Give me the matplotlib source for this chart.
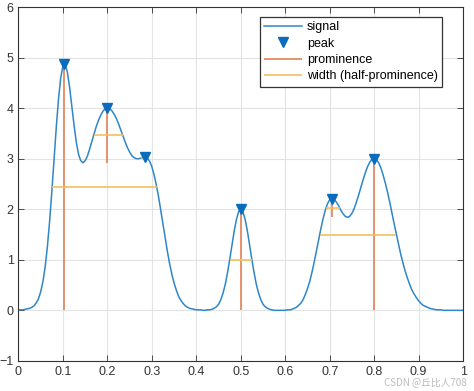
import numpy as np
import matplotlib
matplotlib.use("Agg")
import matplotlib.pyplot as plt

x_sig = np.linspace(0, 1, 201)
y_sig = [
    0.01, 0.01, 0.01, 0.02, 0.03, 0.04, 0.06, 0.09, 0.15, 0.23, 0.37, 0.57, 0.86, 1.26, 1.76, 2.35, 2.99, 3.62, 4.18, 4.60,
    4.84, 4.87, 4.71, 4.41, 4.04, 3.66, 3.33, 3.09, 2.96, 2.92, 2.96, 3.05, 3.19, 3.34, 3.49, 3.64, 3.76, 3.86, 3.94, 3.99,
    4.00, 3.99, 3.95, 3.88, 3.80, 3.69, 3.57, 3.45, 3.33, 3.22, 3.13, 3.06, 3.02, 3.00, 3.00, 3.01, 3.03, 3.03, 3.01, 2.95,
    2.84, 2.68, 2.48, 2.25, 1.98, 1.70, 1.43, 1.16, 0.92, 0.71, 0.54, 0.40, 0.28, 0.20, 0.14, 0.09, 0.06, 0.04, 0.03, 0.02,
    0.01, 0.01, 0.01, 0.00, 0.00, 0.01, 0.01, 0.02, 0.04, 0.07, 0.12, 0.21, 0.34, 0.51, 0.74, 1.00, 1.28, 1.56, 1.79, 1.95,
    2.00, 1.95, 1.79, 1.56, 1.28, 1.00, 0.74, 0.51, 0.34, 0.21, 0.12, 0.07, 0.04, 0.02, 0.01, 0.00, 0.00, 0.00, 0.00, 0.00,
    0.00, 0.01, 0.01, 0.02, 0.04, 0.06, 0.10, 0.14, 0.21, 0.31, 0.43, 0.57, 0.75, 0.95, 1.17, 1.39, 1.61, 1.81, 1.98, 2.11,
    2.19, 2.21, 2.20, 2.14, 2.07, 1.98, 1.91, 1.86, 1.84, 1.86, 1.92, 2.01, 2.14, 2.28, 2.43, 2.58, 2.72, 2.84, 2.93, 2.99,
    3.00, 2.98, 2.92, 2.82, 2.68, 2.52, 2.34, 2.14, 1.92, 1.71, 1.50, 1.30, 1.10, 0.93, 0.77, 0.63, 0.51, 0.40, 0.32, 0.25,
    0.19, 0.14, 0.10, 0.08, 0.06, 0.04, 0.03, 0.02, 0.01, 0.01, 0.01, 0.00, 0.00, 0.00, 0.00, 0.00, 0.00, 0.00, 0.00, 0.00,
    0.00,
]

# peaks
peak_x = [0.103, 0.2, 0.285, 0.5, 0.705, 0.8]
peak_y = [4.88, 4.00, 3.03, 2.00, 2.21, 3.00]
prom_base = [0.0, 2.92, 3.00, 0.0, 1.84, 0.0]

# half-prominence widths
width_y = [2.44, 3.46, 3.015, 1.00, 2.03, 1.50]
width_left = [0.076, 0.169, 0.2755, 0.475, 0.692, 0.6775]
width_right = [0.311, 0.2346, 0.288, 0.525, 0.7225, 0.850]

xticks = [0, 0.1, 0.2, 0.3, 0.4, 0.5, 0.6, 0.7, 0.8, 0.9, 1]
xticklabels = ["0", "0.1", "0.2", "0.3", "0.4", "0.5", "0.6", "0.7", "0.8", "0.9", "1"]
yticks = [-1, 0, 1, 2, 3, 4, 5, 6]

blue = "#2f86c8"
marker_blue = "#0a6cbd"
orange = "#e58a62"
yellow = "#f2c060"
dark = "#333333"

plt.rcParams['font.family'] = ['Liberation Sans', 'DejaVu Sans']

fig = plt.figure(figsize=(4.74, 3.91), dpi=100)
ax = fig.add_axes([0.039, 0.077, 0.938, 0.905])

ax.plot(x_sig, y_sig, color=blue, lw=1.1, label="signal", zorder=2)
ax.plot(peak_x, peak_y, linestyle="none", marker="v", markersize=7.5,
        color=marker_blue, label="peak", zorder=4)
ax.vlines(peak_x, prom_base, peak_y, color=orange, lw=1.3, label="prominence", zorder=3)
ax.hlines(width_y, width_left, width_right, color=yellow, lw=1.2,
          label="width (half-prominence)", zorder=3)

ax.set_xlim(0, 1)
ax.set_ylim(-1, 6)
ax.set_xticks(xticks)
ax.set_xticklabels(xticklabels)
ax.set_yticks(yticks)
ax.grid(True, color="#e3e3e3", lw=0.8)
ax.set_axisbelow(True)
ax.tick_params(direction="in", length=4, width=0.6, top=True, right=True,
               labelsize=9, colors=dark, labelcolor=dark)
for s in ax.spines.values():
    s.set_color(dark)
    s.set_linewidth(0.8)

leg = ax.legend(loc="upper right", bbox_to_anchor=(0.953, 0.972), borderaxespad=0,
                fontsize=9, handlelength=3.0, handletextpad=0.4, labelspacing=0.35,
                borderpad=0.35, fancybox=False, framealpha=1, numpoints=1)
leg.get_frame().set_edgecolor(dark)
leg.get_frame().set_linewidth(0.9)

# watermark
fig.text(0.985, 0.022, "CSDN @丘比人708", ha="right", va="center", fontsize=7,
         color="#aaaaaa", alpha=0.8, family=['Noto Sans CJK SC', 'DejaVu Sans'])

fig.savefig("out.png", dpi=100)
